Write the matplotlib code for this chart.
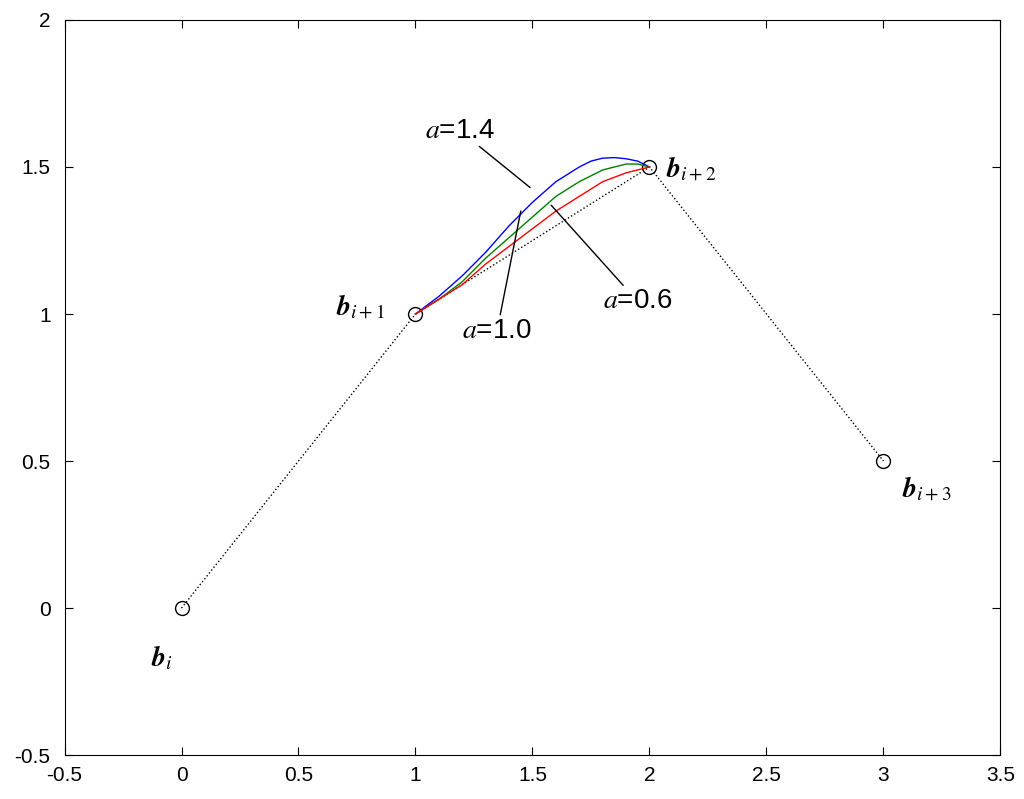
import matplotlib
matplotlib.use("Agg")
import matplotlib.pyplot as plt

plt.rcParams['font.family'] = ['Liberation Sans', 'DejaVu Sans']
plt.rcParams['mathtext.fontset'] = 'stix'

# control polygon
px = [0, 1, 2, 3]
py = [0, 1, 1.5, 0.5]

# curve samples
cx = [1.0, 1.1, 1.2, 1.3, 1.4, 1.5, 1.6, 1.7, 1.75, 1.8, 1.85, 1.9, 1.95, 2.0]
y_a14 = [1.0, 1.06, 1.13, 1.21, 1.30, 1.38, 1.45, 1.50, 1.52, 1.53, 1.532, 1.528, 1.52, 1.50]
y_a10 = [1.0, 1.05, 1.11, 1.19, 1.26, 1.33, 1.40, 1.45, 1.47, 1.49, 1.50, 1.51, 1.51, 1.50]
y_a06 = [1.0, 1.05, 1.10, 1.17, 1.23, 1.29, 1.35, 1.40, 1.425, 1.45, 1.465, 1.48, 1.49, 1.50]

fig = plt.figure(figsize=(10.24, 7.99), dpi=100)
ax = fig.add_axes([0.063, 0.055, 0.914, 0.92])

ax.plot(px, py, ":", color="k", lw=1)
ax.plot(px, py, "o", mfc="none", mec="k", ms=10, mew=1)
ax.plot(cx, y_a14, color="b", lw=1)
ax.plot(cx, y_a10, color="g", lw=1)
ax.plot(cx, y_a06, color="r", lw=1)

ax.annotate(r"$a$=1.4", xy=(1.49, 1.43), xytext=(1.04, 1.6), fontsize=20,
            arrowprops=dict(arrowstyle="-", color="k", lw=1, shrinkA=0, shrinkB=0))
ax.annotate(r"$a$=1.0", xy=(1.45, 1.35), xytext=(1.2, 0.92), fontsize=20,
            arrowprops=dict(arrowstyle="-", color="k", lw=1, shrinkA=0, shrinkB=0))
ax.annotate(r"$a$=0.6", xy=(1.58, 1.37), xytext=(1.8, 1.02), fontsize=20,
            arrowprops=dict(arrowstyle="-", color="k", lw=1, shrinkA=0, shrinkB=0))

lab = dict(fontsize=20)
ax.text(-0.13, -0.2, r"$\mathbfit{b}_{i}$", **lab)
ax.text(0.66, 1.0, r"$\mathbfit{b}_{i+1}$", **lab)
ax.text(2.07, 1.47, r"$\mathbfit{b}_{i+2}$", **lab)
ax.text(3.08, 0.38, r"$\mathbfit{b}_{i+3}$", **lab)

ax.set_xlim(-0.5, 3.5)
ax.set_ylim(-0.5, 2)
ax.set_xticks([-0.5, 0, 0.5, 1, 1.5, 2, 2.5, 3, 3.5])
ax.set_xticklabels(["-0.5", "0", "0.5", "1", "1.5", "2", "2.5", "3", "3.5"])
ax.set_yticks([-0.5, 0, 0.5, 1, 1.5, 2])
ax.set_yticklabels(["-0.5", "0", "0.5", "1", "1.5", "2"])
ax.tick_params(direction="in", labelsize=15, top=True, right=True, length=6)
ax.tick_params(axis="x", pad=8)
ax.tick_params(axis="y", pad=10)

fig.savefig("out.png")
